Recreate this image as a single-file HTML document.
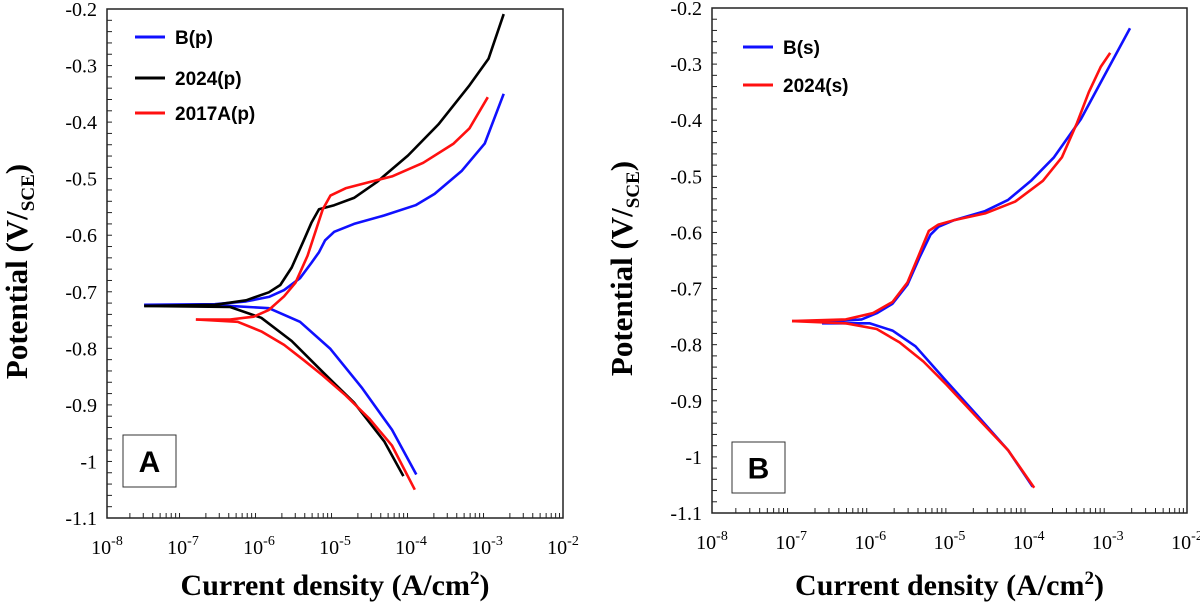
<!DOCTYPE html>
<html><head><meta charset="utf-8"><style>
body{margin:0;background:#fff;width:1200px;height:608px;overflow:hidden}
svg{display:block}
.tk{font-family:"Liberation Serif",serif;font-size:20px;fill:#000}
.tt{font-family:"Liberation Serif",serif;font-weight:bold;fill:#000}
.lg{font-family:"Liberation Sans",sans-serif;font-weight:bold;fill:#000}
</style></head><body>
<svg id="chart" width="1200" height="608"></svg>
<script>
// Panel A data: log10(current density) and potential (V)
const aBlueAnX=[-7.51,-6.58,-6.17,-5.87,-5.67,-5.46,-5.31,-5.21,-5.13,-5.01,-4.75,-4.35,-3.94,-3.69,-3.33,-3.03,-2.78];
const aBlueAnY=[-0.723,-0.722,-0.717,-0.709,-0.697,-0.676,-0.649,-0.630,-0.609,-0.594,-0.580,-0.565,-0.547,-0.527,-0.486,-0.438,-0.350];
const aBlueCaX=[-7.51,-6.38,-5.87,-5.46,-5.06,-4.65,-4.25,-3.93];
const aBlueCaY=[-0.723,-0.725,-0.729,-0.753,-0.801,-0.869,-0.944,-1.023];
const aBlackAnX=[-7.51,-6.58,-6.17,-5.87,-5.72,-5.57,-5.41,-5.31,-5.21,-5.01,-4.75,-4.45,-4.04,-3.64,-3.23,-2.98,-2.78];
const aBlackAnY=[-0.725,-0.723,-0.715,-0.701,-0.688,-0.657,-0.609,-0.578,-0.554,-0.547,-0.534,-0.506,-0.459,-0.404,-0.335,-0.288,-0.209];
const aBlackCaX=[-7.51,-6.38,-5.97,-5.57,-5.16,-4.75,-4.35,-4.10];
const aBlackCaY=[-0.725,-0.727,-0.746,-0.787,-0.842,-0.896,-0.965,-1.026];
const aRedAnX=[-6.83,-6.38,-6.07,-5.87,-5.67,-5.52,-5.36,-5.26,-5.16,-5.06,-4.86,-4.55,-4.25,-3.84,-3.44,-3.23,-2.99];
const aRedAnY=[-0.749,-0.749,-0.744,-0.732,-0.708,-0.684,-0.636,-0.595,-0.554,-0.530,-0.517,-0.506,-0.496,-0.472,-0.438,-0.411,-0.356];
const aRedCaX=[-6.83,-6.28,-5.97,-5.67,-5.41,-5.16,-4.86,-4.55,-4.25,-3.95];
const aRedCaY=[-0.749,-0.753,-0.770,-0.794,-0.821,-0.848,-0.883,-0.924,-0.972,-1.050];
// Panel B data
const bBlueAnX=[-6.61,-6.11,-5.92,-5.72,-5.53,-5.38,-5.24,-5.14,-4.94,-4.55,-4.26,-3.97,-3.68,-3.34,-3.05,-2.72];
const bBlueAnY=[-0.760,-0.755,-0.744,-0.727,-0.693,-0.645,-0.604,-0.590,-0.578,-0.562,-0.542,-0.508,-0.466,-0.398,-0.322,-0.236];
const bBlueCaX=[-6.61,-6.01,-5.72,-5.43,-5.04,-4.65,-4.26,-3.95];
const bBlueCaY=[-0.762,-0.762,-0.775,-0.803,-0.865,-0.926,-0.988,-1.053];
const bRedAnX=[-6.99,-6.31,-5.97,-5.72,-5.53,-5.38,-5.26,-5.14,-4.94,-4.55,-4.17,-3.82,-3.58,-3.39,-3.24,-3.09,-2.97];
const bRedAnY=[-0.758,-0.755,-0.744,-0.724,-0.689,-0.638,-0.597,-0.586,-0.578,-0.566,-0.545,-0.508,-0.466,-0.405,-0.350,-0.305,-0.280];
const bRedCaX=[-6.99,-6.31,-5.92,-5.63,-5.33,-5.04,-4.65,-4.26,-3.93];
const bRedCaY=[-0.758,-0.762,-0.772,-0.796,-0.830,-0.871,-0.930,-0.988,-1.055];
const xTickExp=[-8,-7,-6,-5,-4,-3,-2];
const yTicks=[-0.2,-0.3,-0.4,-0.5,-0.6,-0.7,-0.8,-0.9,-1,-1.1];

const NS='http://www.w3.org/2000/svg';
const svg=document.getElementById('chart');
function mk(tag,attrs,parent){const e=document.createElementNS(NS,tag);for(const k in attrs)e.setAttribute(k,attrs[k]);(parent||svg).appendChild(e);return e;}

function panel(id,L,R,T,B,series,legend,letter,box){
  const g=mk('g',{});
  
  
  const sx=v=>L+(v+8)/6*(R-L);
  const sy=v=>T+(-0.2-v)/0.9*(B-T);
  const fr=mk('rect',{x:L,y:T,width:R-L,height:B-T,fill:'none',stroke:'#222','stroke-width':1.5},g);
  
  
  for(let i=0;i<=45;i++){const y=T+i*(B-T)/45;mk('line',{x1:L,x2:L+5,y1:y,y2:y,stroke:'#222','stroke-width':1},g);}
  yTicks.forEach(v=>{const t=mk('text',{x:L-10,y:sy(v)+7,'text-anchor':'end',class:'tk'},g);t.textContent=String(v);
    });
  for(let d=-8;d<-2;d++){for(let m=2;m<=9;m++){const x=sx(d+Math.log10(m));mk('line',{x1:x,x2:x,y1:B,y2:B-5,stroke:'#222','stroke-width':1},g);}}
  xTickExp.forEach(e=>{const t=mk('text',{x:sx(e),y:B+36,'text-anchor':'middle',class:'tk'},g);
    
    t.innerHTML='10<tspan dy="-9" style="font-size:14px">'+e+'</tspan>';});
  series.forEach(s=>{const d=s.x.map((v,i)=>(i?'L':'M')+sx(v).toFixed(1)+','+sy(s.y[i]).toFixed(1)).join('');
    const p=mk('path',{d:d,fill:'none',stroke:s.c,'stroke-width':2.6,'stroke-linejoin':'round'},g);
    });
  legend.forEach(l=>{const ln=mk('line',{x1:l.x,x2:l.x+30,y1:l.y,y2:l.y,stroke:l.c,'stroke-width':3},g);
    
    const t=mk('text',{x:l.x+40,y:l.y+7,class:'lg',style:'font-size:19px'},g);t.textContent=l.t;
    });
  const bx=mk('rect',{x:box[0],y:box[1],width:box[2],height:box[3],fill:'#fff',stroke:'#333','stroke-width':1},g);
  
  const lt=mk('text',{x:box[0]+box[2]/2,y:box[1]+box[3]/2+11,'text-anchor':'middle',class:'lg',style:'font-size:30px'},g);
  lt.textContent=letter;
  
  const cx=(L+R)/2;
  const xt=mk('text',{x:cx,y:595,'text-anchor':'middle',class:'tt',style:'font-size:30px'},g);
  xt.innerHTML='Current density (A/cm<tspan dy="-11" style="font-size:19px">2</tspan><tspan dy="11">)</tspan>';
  
  const yx=L-80,yy=(T+B)/2+8;
  const yt=mk('text',{x:yx,y:yy,'text-anchor':'middle',class:'tt',style:'font-size:31px',transform:'rotate(-90 '+yx+' '+yy+')'},g);
  yt.innerHTML='Potential (V/<tspan dy="7" style="font-size:19px">SCE</tspan><tspan dy="-7">)</tspan>';
  
}

panel('a',107,563,9,518,[
 {x:aBlueCaX,y:aBlueCaY,c:'#1010ff',n:'bp-cathodic-line'},
 {x:aBlueAnX,y:aBlueAnY,c:'#1010ff',n:'bp-anodic-line'},
 {x:aBlackCaX,y:aBlackCaY,c:'#000',n:'2024p-cathodic-line'},
 {x:aBlackAnX,y:aBlackAnY,c:'#000',n:'2024p-anodic-line'},
 {x:aRedCaX,y:aRedCaY,c:'#ff1010',n:'2017ap-cathodic-line'},
 {x:aRedAnX,y:aRedAnY,c:'#ff1010',n:'2017ap-anodic-line'}
],[{x:135,y:37,c:'#1010ff',t:'B(p)'},{x:135,y:78,c:'#000',t:'2024(p)'},{x:135,y:113,c:'#ff1010',t:'2017A(p)'}],'A',[123,435,53,52]);

panel('b',712,1187,8,513,[
 {x:bBlueCaX,y:bBlueCaY,c:'#1010ff',n:'bs-cathodic-line'},
 {x:bBlueAnX,y:bBlueAnY,c:'#1010ff',n:'bs-anodic-line'},
 {x:bRedCaX,y:bRedCaY,c:'#ff1010',n:'2024s-cathodic-line'},
 {x:bRedAnX,y:bRedAnY,c:'#ff1010',n:'2024s-anodic-line'}
],[{x:743,y:47,c:'#1010ff',t:'B(s)'},{x:743,y:85,c:'#ff1010',t:'2024(s)'}],'B',[732,442,53,51]);
</script>
</body></html>
